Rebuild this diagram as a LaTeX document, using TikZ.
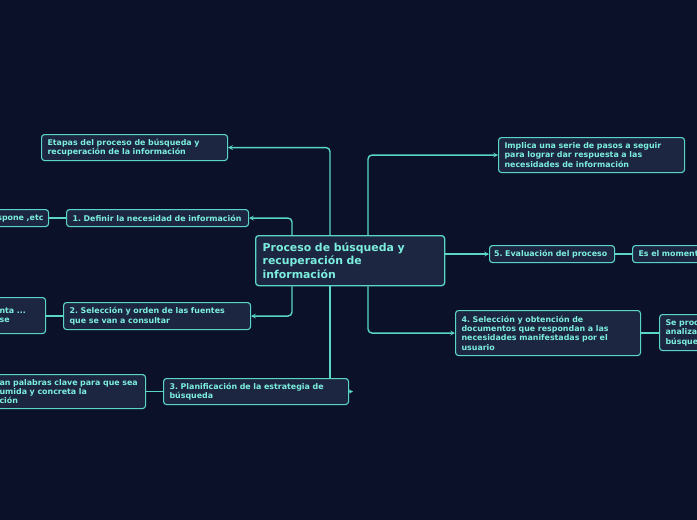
\documentclass[tikz,border=0pt]{standalone}
\usepackage{fontspec}
\setmainfont{DejaVu Sans}
\usetikzlibrary{arrows.meta}
\definecolor{bgc}{HTML}{0B1129}
\definecolor{boxc}{HTML}{1D2641}
\definecolor{linec}{HTML}{5AD6C8}
\definecolor{txtc}{HTML}{7CEEDF}
\tikzset{
  box/.style={draw=linec, line width=1.1pt, fill=boxc, rounded corners=3pt,
    anchor=north west, inner xsep=6pt, inner ysep=0pt, align=left,
    text=txtc, font=\fontsize{7.9}{9.4}\selectfont\bfseries\frenchspacing},
  rootbox/.style={box, line width=1.3pt, inner xsep=7pt,
    font=\fontsize{10.9}{13.5}\selectfont\bfseries},
  conn/.style={draw=linec, line width=1.4pt, rounded corners=4pt},
  arr/.style={conn, -{Stealth[length=5pt,width=5pt,inset=2.5pt]}},
}
\begin{document}
\begin{tikzpicture}[x=1pt,y=-1pt]
\useasboundingbox[fill=bgc] (0,0) rectangle (697,520);
\coordinate (xa) at (330,0);
\coordinate (xb) at (292,0);
\coordinate (xc) at (368,0);
% nodes
\node[rootbox, text width=175pt, minimum height=50pt] (root) at (255,235)
  {Proceso de búsqueda y\\recuperación de\\información};
\node[box, text width=174pt, minimum height=26pt] (etapas) at (41,134)
  {Etapas del proceso de búsqueda y\\recuperación de la información};
\node[box, text width=170pt, minimum height=17pt] (def1) at (66,209)
  {1. Definir la necesidad de información};
\node[box, text width=138pt, minimum height=17pt, align=right, inner xsep=5pt] (pone) at (-100,209)
  {spone ,etc};
\node[box, text width=175pt, minimum height=27pt] (sel2) at (63,302)
  {2. Selección y orden de las fuentes\\que se van a consultar};
\node[box, text width=40pt, minimum height=36pt] (nta) at (-7,297)
  {nta ...\\se};
\node[box, text width=140pt, minimum height=34pt] (pal) at (-7,374)
  {an palabras clave para que sea\\umida y concreta la\\ción};
\node[box, text width=173pt, minimum height=26pt] (plan) at (163,378)
  {3. Planificación de la estrategia de\\búsqueda};
\node[box, text width=174pt, minimum height=35pt] (impl) at (498,137)
  {Implica una serie de pasos a seguir\\para lograr dar respuesta a las\\necesidades de información};
\node[box, text width=116pt, minimum height=17pt, inner xsep=4.5pt] (eval) at (489,245)
  {\mbox{5. Evaluación del proceso}};
\node[box, text width=90pt, minimum height=17pt] (mom) at (632,245)
  {Es el moment};
\node[box, text width=173pt, minimum height=45pt] (sel4) at (455,310)
  {4. Selección y obtención de\\documentos que respondan a las\\necesidades manifestadas por el\\usuario};
\node[box, text width=70pt, minimum height=36pt] (proc) at (659,314)
  {Se proc\\analiza\\búsque};
% connectors
\draw[arr] (root.north -| xa) |- (etapas.east);
\draw[arr] (root.north -| xb) |- (def1.east);
\draw[arr] (root.south -| xb) |- (sel2.east);
\draw[conn] (root.south -| xa) -- (plan.north -| xa);
\draw[arr] (plan.east) -- ++(4,0);
\draw[arr] (root.north -| xc) |- (impl.west);
\draw[arr] (root.east |- eval.west) -- (eval.west);
\draw[arr] (root.south -| xc) |- (sel4.west);
\draw[conn] (def1.west) -- (pone.east);
\draw[conn] (sel2.west) -- (nta.east |- sel2.west);
\draw[conn] (plan.west) -- (pal.east |- plan.west);
\draw[conn] (eval.east) -- (mom.west);
\draw[conn] (sel4.east) -- (proc.west |- sel4.east);
\end{tikzpicture}
\end{document}
